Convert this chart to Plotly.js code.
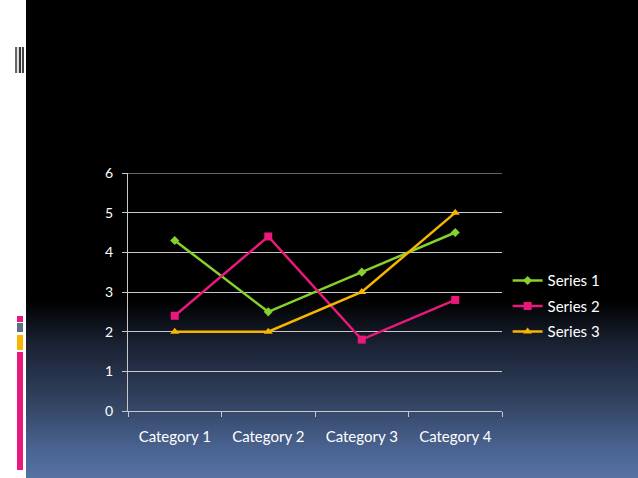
<!DOCTYPE html>
<html>
<head>
<meta charset="utf-8">
<script src="https://cdn.plot.ly/plotly-3.0.1.min.js"></script>
<style>
  html, body { margin:0; padding:0; width:638px; height:478px; overflow:hidden; background:#ffffff; }
  #bg { position:absolute; left:26px; top:0; width:612px; height:478px;
        background: linear-gradient(to bottom, #000000 0px, #000000 300px, #1a2233 345px, #31415f 400px, #4a6492 450px, #5572a3 478px); }
  .deco { position:absolute; }
  #chart { position:absolute; left:0; top:0; width:638px; height:478px; }
</style>
</head>
<body>
<div id="bg"></div>
<!-- barcode decoration -->
<div class="deco" style="left:15px;top:47px;width:2px;height:26px;background:#666;"></div>
<div class="deco" style="left:17px;top:47px;width:2px;height:26px;background:#ddd;"></div>
<div class="deco" style="left:19px;top:47px;width:2px;height:26px;background:#333;"></div>
<div class="deco" style="left:21px;top:47px;width:1px;height:26px;background:#eee;"></div>
<div class="deco" style="left:22px;top:47px;width:2px;height:26px;background:#444;"></div>
<!-- colored side bars -->
<div class="deco" style="left:17px;top:316px;width:6px;height:6px;background:#e8197b;"></div>
<div class="deco" style="left:17px;top:323px;width:6px;height:9px;background:#5f6f85;"></div>
<div class="deco" style="left:17px;top:335px;width:6px;height:15px;background:#f5b500;"></div>
<div class="deco" style="left:17px;top:352px;width:6px;height:118px;background:#e8197b;"></div>
<div id="chart"></div>
<script>
const categories = ["Category 1", "Category 2", "Category 3", "Category 4"];
const seriesNames = ["Series 1", "Series 2", "Series 3"];
const series1 = [4.3, 2.5, 3.5, 4.5];
const series2 = [2.4, 4.4, 1.8, 2.8];
const series3 = [2, 2, 3, 5];
const yTicks = [0, 1, 2, 3, 4, 5, 6];

const fontFam = "Lato, 'Open Sans', sans-serif";
const colors = ["#86d12e", "#e8197b", "#f7b500"];
const symbols = ["diamond", "square", "triangle-up"];
const sizes = [7, 8, 8];
const data = [series1, series2, series3].map((vals, i) => ({
  type: "scatter",
  mode: "lines+markers",
  name: seriesNames[i],
  legendgroup: "g" + i,
  x: categories,
  y: vals,
  line: { color: colors[i], width: 2.5 },
  marker: { color: colors[i], symbol: symbols[i], size: sizes[i] }
}));

const yMax = yTicks[yTicks.length - 1];
const layout = {
  width: 638, height: 478,
  margin: { l: 128, r: 136, t: 173, b: 67, pad: 0 },
  paper_bgcolor: "rgba(0,0,0,0)",
  plot_bgcolor: "rgba(0,0,0,0)",
  font: { family: fontFam, size: 14, color: "#ffffff" },
  showlegend: true,
  legend: {
    x: 1.015, xanchor: "left", y: 0.44, yanchor: "middle",
    font: { family: fontFam, size: 15, color: "#ffffff" },
    bgcolor: "rgba(0,0,0,0)", tracegroupgap: 3
  },
  shapes: [{
    type: "line", xref: "paper", x0: 0, x1: 1, yref: "y", y0: yMax, y1: yMax,
    line: { color: "#c8c8c8", width: 1 }, layer: "below"
  }],
  xaxis: {
    type: "category",
    range: [-0.5, 3.5],
    showgrid: false,
    showline: true, linecolor: "#c8c8c8", linewidth: 1,
    ticks: "outside", ticklen: 5, tickcolor: "#c8c8c8", tickson: "boundaries",
    ticklabelstandoff: 12,
    tickfont: { family: fontFam, size: 15, color: "#ffffff" },
    zeroline: false, fixedrange: true
  },
  yaxis: {
    range: [0, 6],
    tickvals: yTicks,
    showgrid: true, gridcolor: "#c8c8c8", gridwidth: 1,
    showline: true, linecolor: "#c8c8c8", linewidth: 1,
    ticks: "outside", ticklen: 5, tickcolor: "#c8c8c8",
    ticklabelstandoff: 6,
    tickfont: { family: fontFam, size: 14, color: "#ffffff" },
    zeroline: false, fixedrange: true
  }
};

Plotly.newPlot("chart", data, layout, { displayModeBar: false, staticPlot: true });
</script>
</body>
</html>
